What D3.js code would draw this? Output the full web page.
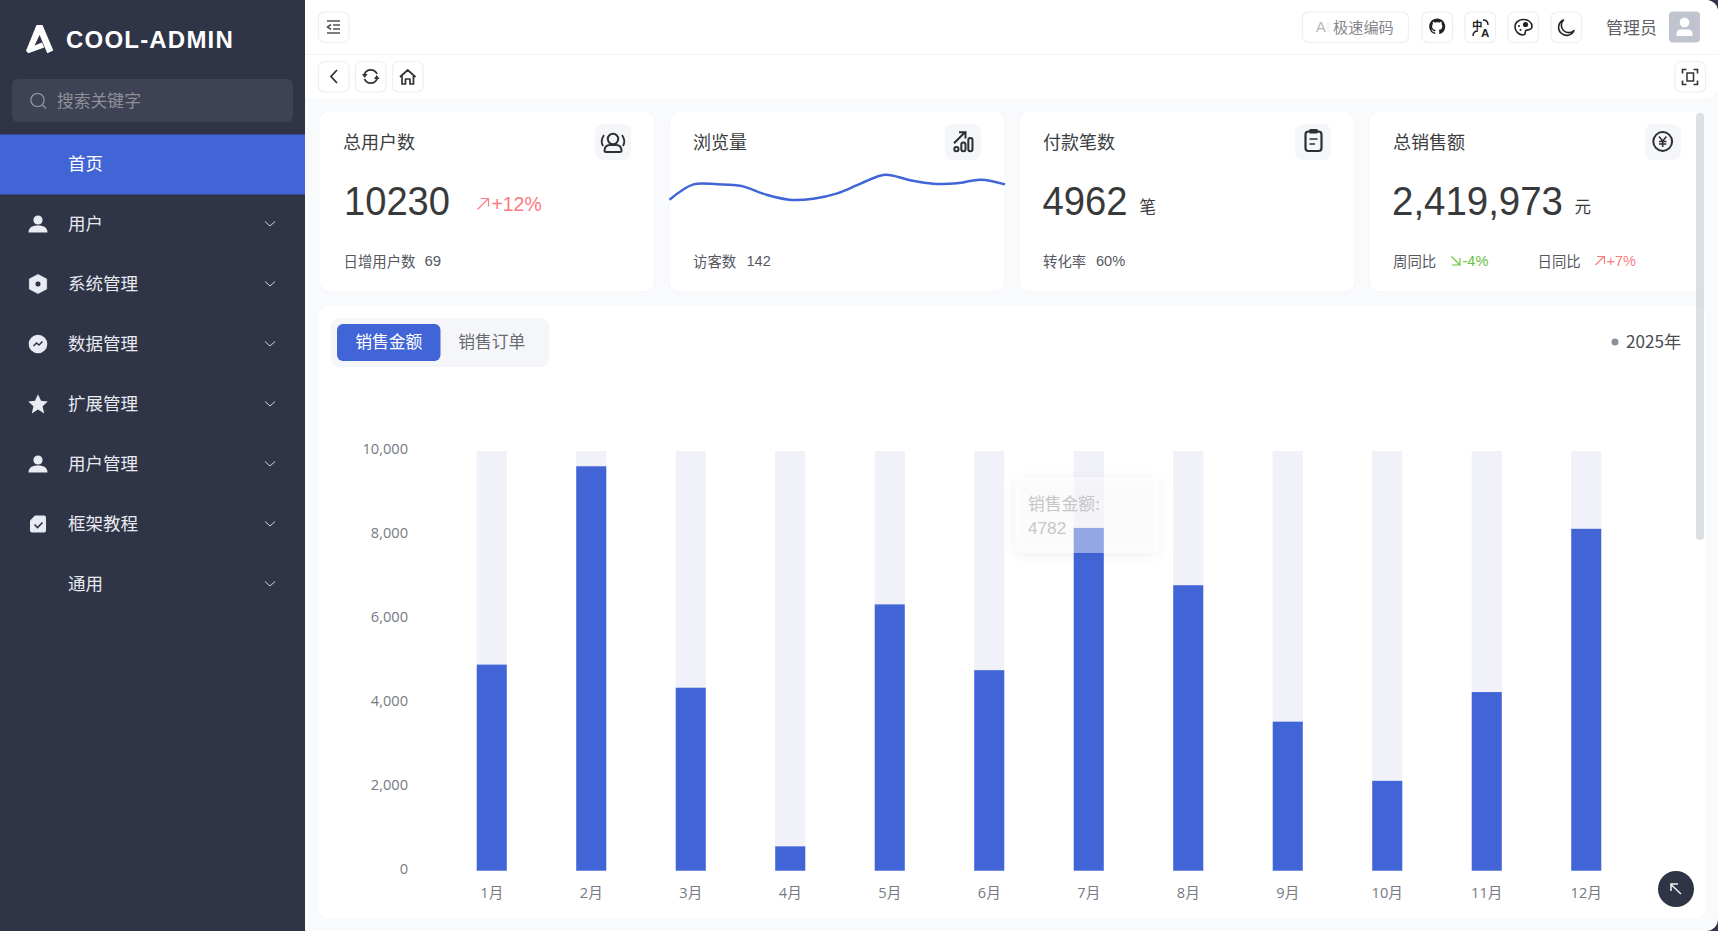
<!DOCTYPE html>
<html lang="zh"><head><meta charset="utf-8">
<script src="https://cdnjs.cloudflare.com/ajax/libs/d3/7.9.0/d3.min.js"></script>
<style>
html,body{margin:0;padding:0;background:#2f3447;overflow:hidden}
svg{display:block}
text{font-family:"Liberation Sans","Noto Sans CJK SC",sans-serif}
.cn{font-family:"Noto Sans CJK SC","Liberation Sans",sans-serif}
.ax text{font-family:"Open Sans","Noto Sans CJK SC",sans-serif;font-size:14.6px;fill:#767a84}
</style></head><body><div id="app"></div>
<script>
// ---- chart data ----
const months = ["1月","2月","3月","4月","5月","6月","7月","8月","9月","10月","11月","12月"];
const salesValues = [4910,9636,4360,580,6345,4778,8167,6802,3551,2141,4256,8146];
const maxValue = 10000;
const yTickValues = [0,2000,4000,6000,8000,10000];
const visitTrend = [21,67,67,62,37,21,24,40,70,96,80,69,70,81,67];
const menuLabels = ["用户","系统管理","数据管理","扩展管理","用户管理","框架教程","通用"];
const tabLabels = ["销售金额","销售订单"];
const tooltipLabel = "销售金额:";
const tooltipValue = "4782";
const yearLabel = "2025年";

const W=1718,H=931,BLUE="#4165d7",DARK="#2f3447",MUTE="#55585f";
const svg=d3.select("#app").append("svg").attr("width",W).attr("height",H);
const defs=svg.append("defs");
const f=defs.append("filter").attr("id","sh").attr("x","-20%").attr("y","-30%").attr("width","140%").attr("height","170%");
f.append("feDropShadow").attr("dx",0).attr("dy",2).attr("stdDeviation",6).attr("flood-color","#000").attr("flood-opacity",.14);

const rect=(g,x,y,w,h,o={})=>g.append("rect").attr("x",x).attr("y",y).attr("width",w).attr("height",h)
  .attr("rx",o.r||0).attr("fill",o.fill||"none").attr("stroke",o.stroke||"none").attr("stroke-width",o.sw||1);
const txt=(g,s,x,y,size,fill,o={})=>g.append("text").text(s).attr("x",x).attr("y",y).attr("font-size",size)
  .attr("fill",fill).attr("text-anchor",o.anchor||"start").attr("class",o.cls||null)
  .attr("font-weight",o.w||null).attr("letter-spacing",o.ls||null);
const icon=(g,d,x,y,s,o={})=>g.append("path").attr("d",d).attr("transform",`translate(${x},${y}) scale(${s})`)
  .attr("fill",o.fill||"none").attr("fill-rule","evenodd");

// ---- page frame ----
rect(svg,0,0,W,H,{fill:DARK});
rect(svg,295,0,W-295,H,{fill:"#f9fafb",r:12});
rect(svg,295,0,W-295,98,{fill:"#ffffff",r:12});
rect(svg,305,54,W-305,1,{fill:"#f1f3f7"});

// ---- sidebar ----
const side=svg.append("g");
rect(side,0,0,305,H,{fill:DARK});
side.append("path").attr("d","M36.5 25 L42.5 25 L53.3 50.5 L47.3 53.3 L39.6 35 L34.5 45.5 L42 42.5 L44.3 47.5 L28.3 53.3 L26 50.7 Z").attr("fill","#fff");
txt(side,"COOL-ADMIN",66,48,24,"#fff",{w:700,ls:1.2});
rect(side,12,79,281,43,{fill:"#3e4254",r:6});
side.append("circle").attr("cx",37.5).attr("cy",100).attr("r",6.6).attr("fill","none").attr("stroke","#8d9099").attr("stroke-width",1.4);
side.append("path").attr("d","M42.5 105 L46 108.5").attr("stroke","#8d9099").attr("stroke-width",1.4);
txt(side,"搜索关键字",57,106.5,16.8,"#8d9099",{cls:"cn"});
rect(side,0,134.5,305,60,{fill:BLUE});
txt(side,"首页",68,170,17.5,"#fff",{cls:"cn"});
menuLabels.forEach((m,i)=>{
  const cy=224+i*60;
  txt(side,m,68,cy+6,17.5,"#e8eaf0",{cls:"cn"});
  side.append("path").attr("d",`M265 ${cy-2.5} L270 ${cy+2} L275 ${cy-2.5}`).attr("fill","none").attr("stroke","#cfd2da").attr("stroke-width",1);
  const g=side.append("g").attr("transform",`translate(38,${cy})`).attr("fill","#e8ebf2");
  if(i===0||i===4){
    g.append("circle").attr("cy",-4).attr("r",4.6);
    g.append("path").attr("d","M-9.5 8.5 C-9.5 2.5 -4.5 1.5 0 1.5 C4.5 1.5 9.5 2.5 9.5 8.5 Z");
  } else if(i===1){
    g.append("path").attr("fill-rule","evenodd").attr("d","M0 -9.5 L8.6 -5 L8.6 5 L0 9.5 L-8.6 5 L-8.6 -5 Z M0 -3 A3 3 0 1 0 0 3 A3 3 0 1 0 0 -3 Z")
     .attr("stroke","#e8ebf2").attr("stroke-width",.8).attr("stroke-linejoin","round");
  } else if(i===2){
    g.append("circle").attr("r",9.3);
    g.append("path").attr("d","M-4.5 2 L-1.5 -1 L1 1 L4.5 -2.5").attr("fill","none").attr("stroke",DARK).attr("stroke-width",1.5);
  } else if(i===3){
    g.append("path").attr("d","M0 -9.8 L3 -3.2 L9.8 -2.6 L4.6 2.2 L6.2 9.4 L0 5.6 L-6.2 9.4 L-4.6 2.2 L-9.8 -2.6 L-3 -3.2 Z");
  } else if(i===5){
    g.append("path").attr("d","M-8 -3.5 L-3 -8.5 L6 -8.5 Q8 -8.5 8 -6.5 L8 6.5 Q8 8.5 6 8.5 L-6 8.5 Q-8 8.5 -8 6.5 Z");
    g.append("path").attr("d","M-3.5 0.5 L-0.5 3.5 L4.5 -1.5").attr("fill","none").attr("stroke",DARK).attr("stroke-width",1.6);
  }
});

// ---- top bars ----
const top_=svg.append("g");
const btn=(x,y,w=30.5,h=30.5)=>rect(top_,x,y,w,h,{fill:"#fff",stroke:"#eeeff3",r:6,sw:1.2});
[[318.5,12],[318.5,61.5],[355.5,61.5],[392.5,61.5],[1422,12],[1465,12],[1508,12],[1551,12],[1675,61.5]].forEach(p=>btn(p[0],p[1]));
top_.append("path").attr("d","M327 21 H340 M333 25 H340 M333 29 H340 M327 33 H340 M331 24.5 L327.5 27 L331 29.5").attr("fill","none").attr("stroke","#555").attr("stroke-width",1.6);
top_.append("path").attr("d","M337 70 L331 76.5 L337 83").attr("fill","none").attr("stroke","#333").attr("stroke-width",1.8);
top_.append("path").attr("d","M364.5 74 A6.8 6.8 0 0 1 377 74 M377 79 A6.8 6.8 0 0 1 364.5 79").attr("fill","none").attr("stroke","#333").attr("stroke-width",1.9);
top_.append("path").attr("d","M362 74 H367.5 L364.7 78 Z M374 79 H379.5 L376.7 75 Z").attr("fill","#333");
top_.append("path").attr("d","M400 77 L407.7 70 L415.5 77 M402 75.5 V84 H405.5 V79 H410 V84 H413.5 V75.5").attr("fill","none").attr("stroke","#333").attr("stroke-width",1.7).attr("stroke-linejoin","round");
rect(top_,1302.5,12,106,30.5,{fill:"#fff",stroke:"#eeeff3",r:6,sw:1.2});
txt(top_,"A",1316,32,14.6,"#b4b4b6");
txt(top_,"I",1326,32,14.6,"#f0f0f0");
txt(top_,"极速编码",1333,32.5,15.2,"#85878e",{cls:"cn"});
icon(top_,"M8 0C3.58 0 0 3.58 0 8c0 3.54 2.29 6.53 5.47 7.59.4.07.55-.17.55-.38 0-.19-.01-.82-.01-1.49-2.01.37-2.53-.49-2.69-.94-.09-.23-.48-.94-.82-1.13-.28-.15-.68-.52-.01-.53.63-.01 1.08.58 1.23.82.72 1.21 1.87.87 2.33.66.07-.52.28-.87.51-1.07-1.78-.2-3.64-.89-3.64-3.95 0-.87.31-1.59.82-2.15-.08-.2-.36-1.02.08-2.12 0 0 .67-.21 2.2.82.64-.18 1.32-.27 2-.27.68 0 1.36.09 2 .27 1.53-1.04 2.2-.82 2.2-.82.44 1.1.16 1.92.08 2.12.51.56.82 1.27.82 2.15 0 3.07-1.87 3.75-3.65 3.95.29.25.54.73.54 1.48 0 1.07-.01 1.93-.01 2.2 0 .21.15.46.55.38A8.013 8.013 0 0016 8c0-4.42-3.58-8-8-8z",1429.2,18.5,1,{fill:"#222"});
txt(top_,"中",1472,28.5,10.5,"#222",{cls:"cn",w:700});
txt(top_,"A",1481,37,11.5,"#222",{w:700});
top_.append("path").attr("d","M1483 20 Q1488 20 1488 25 M1478 31 Q1473 31 1473 36").attr("fill","none").attr("stroke","#222").attr("stroke-width",1.5);
top_.append("path").attr("d","M1523.5 19.5 C1517 19.5 1515 24 1515 27 C1515 31.5 1519 35 1523 35 C1526 35 1525 32.5 1525.5 31 C1526.5 29 1532 31 1532 26.5 C1532 22.5 1528.5 19.5 1523.5 19.5 Z").attr("fill","none").attr("stroke","#222").attr("stroke-width",1.6);
top_.append("circle").attr("cx",1525.5).attr("cy",24.5).attr("r",2.6).attr("fill","#222");
top_.append("circle").attr("cx",1519).attr("cy",26).attr("r",1).attr("fill","#222");
top_.append("circle").attr("cx",1520.5).attr("cy",30).attr("r",1).attr("fill","#222");
top_.append("path").attr("d","M1563.5 20 A8 8 0 1 0 1574 30.5 A7 7 0 0 1 1563.5 20 Z").attr("fill","none").attr("stroke","#222").attr("stroke-width",1.6).attr("stroke-linejoin","round");
txt(top_,"管理员",1606,33.5,17,"#5f6269",{cls:"cn"});
rect(top_,1669,11.5,31,31,{fill:"#c0c4cf",r:4});
top_.append("circle").attr("cx",1684.5).attr("cy",22.5).attr("r",4.8).attr("fill","#fff");
top_.append("path").attr("d","M1676.5 36 V34 Q1676.5 29.5 1681 29.5 H1688 Q1692.5 29.5 1692.5 34 V36 Z").attr("fill","#fff");
top_.append("path").attr("d","M1682.5 73.5 V69.5 H1686.5 M1693.5 69.5 H1697.5 V73.5 M1697.5 80.5 V84.5 H1693.5 M1686.5 84.5 H1682.5 V80.5").attr("fill","none").attr("stroke","#333").attr("stroke-width",1.6);
rect(top_,1687,73,6.5,8,{stroke:"#333",sw:1.5});

// ---- summary cards ----
const cardX=[319,669,1019,1369];
const cards=svg.append("g");
cardX.forEach(x=>{
  rect(cards,x,111,336,181,{fill:"#fff",stroke:"#f3f5fb",r:11,sw:1});
  rect(cards,x+276,124,36,36,{fill:"#f5f6fa",r:8});
});
const C2="#38393b";
const big=(s,x,w)=>txt(cards,s,x,214.5,40.2,C2).attr("textLength",w).attr("lengthAdjust","spacingAndGlyphs");
txt(cards,"总用户数",343,148.8,18,"#3c3d40",{cls:"cn"});
big("10230",344,106);
txt(cards,"+12%",491.5,211,19.4,"#fb7a7f");
cards.append("path").attr("d","M477.5 209.5 L488.5 198.5 M480.5 198.5 H488.5 V206.5").attr("fill","none").attr("stroke","#fb7a7f").attr("stroke-width",1.1);
txt(cards,"日增用户数",343.5,266.5,14.4,MUTE,{cls:"cn"});
txt(cards,"69",424.5,266,15,MUTE);
txt(cards,"浏览量",693,148.8,18,"#3c3d40",{cls:"cn"});
txt(cards,"访客数",693,266.5,14.4,MUTE,{cls:"cn"});
txt(cards,"142",746.5,266,14.6,MUTE);
txt(cards,"付款笔数",1043,148.8,18,"#3c3d40",{cls:"cn"});
big("4962",1042.5,85);
txt(cards,"笔",1139.5,213,16.5,C2,{cls:"cn"});
txt(cards,"转化率",1043,266.5,14.4,MUTE,{cls:"cn"});
txt(cards,"60%",1096,266,14.6,MUTE);
txt(cards,"总销售额",1393,148.8,18,"#3c3d40",{cls:"cn"});
big("2,419,973",1392,171);
txt(cards,"元",1574.5,213,16.5,C2,{cls:"cn"});
txt(cards,"周同比",1393,266.5,14.4,MUTE,{cls:"cn"});
cards.append("path").attr("d","M1451.5 256.5 L1460 265 M1452 265 H1460 V258").attr("fill","none").attr("stroke","#67c23a").attr("stroke-width",1.1);
txt(cards,"-4%",1462.5,266,14.5,"#67c23a");
txt(cards,"日同比",1537.5,266.5,14.4,MUTE,{cls:"cn"});
cards.append("path").attr("d","M1595.5 265 L1604 256.5 M1597 256.5 H1604.5 V264").attr("fill","none").attr("stroke","#fb7a7f").attr("stroke-width",1.1);
txt(cards,"+7%",1606.5,266,14.5,"#fb7a7f");
// card icons
const IC="#2e2f33";
cards.append("circle").attr("cx",613).attr("cy",139).attr("r",5.2).attr("fill","none").attr("stroke",IC).attr("stroke-width",2);
cards.append("path").attr("d","M604.5 151 Q604.5 145 610 145 H616 Q621.5 145 621.5 151 Q621.5 152 620 152 H606 Q604.5 152 604.5 151 Z").attr("fill","none").attr("stroke",IC).attr("stroke-width",2);
cards.append("path").attr("d","M604 135 Q600 141 603 146 M622 135 Q626 141 623 146").attr("fill","none").attr("stroke",IC).attr("stroke-width",1.8);
cards.append("path").attr("d","M954 143.3 L965 132.3 M959 132.3 H965.5 V138.5").attr("fill","none").attr("stroke",IC).attr("stroke-width",2);
rect(cards,954.3,147,4.2,4.2,{stroke:IC,sw:2,r:2});
rect(cards,961.3,142.5,4.2,8.7,{stroke:IC,sw:2,r:2});
rect(cards,968.3,138,4.2,13.2,{stroke:IC,sw:2,r:2});
rect(cards,1305.5,131.5,16,19.5,{stroke:IC,sw:2.2,r:3});
rect(cards,1309,129,9,4.5,{fill:IC,r:1.5});
cards.append("path").attr("d","M1309.5 139 H1317.5 M1309.5 144 H1315").attr("stroke",IC).attr("stroke-width",1.7);
cards.append("circle").attr("cx",1662.7).attr("cy",141.5).attr("r",9.4).attr("fill","none").attr("stroke",IC).attr("stroke-width",2);
cards.append("path").attr("d","M1659 136.5 L1662.7 141 L1666.4 136.5 M1662.7 141 V147 M1659 141.5 H1666.4 M1659 144 H1666.4").attr("fill","none").attr("stroke",IC).attr("stroke-width",1.5);
// sparkline
const sparkX=d3.scalePoint().domain(d3.range(visitTrend.length)).range([669.5,1005]);
const sparkY=d3.scaleLinear().domain([0,100]).range([206.67,173.33]);
cards.append("path").attr("d",d3.line().x((d,i)=>sparkX(i)).y(d=>sparkY(d)).curve(d3.curveCatmullRom.alpha(.5))(visitTrend))
  .attr("fill","none").attr("stroke",BLUE).attr("stroke-width",2.5);

// ---- sales chart card ----
const cc=svg.append("g");
rect(cc,319,306,1386,613,{fill:"#fff",r:11});
rect(cc,331,318,218,49,{fill:"#f5f6fa",r:8});
rect(cc,337,324,103.5,37,{fill:BLUE,r:6});
txt(cc,tabLabels[0],388.7,348,16.8,"#fff",{anchor:"middle",cls:"cn"});
txt(cc,tabLabels[1],491.7,348,16.8,"#6a6c72",{anchor:"middle",cls:"cn"});
cc.append("circle").attr("cx",1615).attr("cy",342).attr("r",3.5).attr("fill","#8c8f98");
txt(cc,yearLabel,1626,348,17.1,"#4a4c52",{cls:"cn"});

const x=d3.scaleBand().domain(months).range([442,1636]).paddingInner(.698).paddingOuter(.349);
const y=d3.scaleLinear().domain([0,maxValue]).range([870.7,451]);
cc.append("g").selectAll("rect").data(months).join("rect")
  .attr("x",d=>x(d)).attr("width",x.bandwidth()).attr("y",y(maxValue)).attr("height",y(0)-y(maxValue)).attr("fill","#f0f1f9");
cc.append("g").selectAll("rect").data(salesValues).join("rect")
  .attr("x",(d,i)=>x(months[i])).attr("width",x.bandwidth()).attr("y",d=>y(d)).attr("height",d=>y(0)-y(d)).attr("fill",BLUE);
const ay=cc.append("g").attr("class","ax").attr("transform","translate(408,-2)")
  .call(d3.axisLeft(y).tickValues(yTickValues).tickFormat(d3.format(",")).tickSize(0).tickPadding(0));
ay.select(".domain").remove();
const ax=cc.append("g").attr("class","ax").attr("transform","translate(0,887.5)")
  .call(d3.axisBottom(x).tickSize(0).tickPadding(0));
ax.select(".domain").remove();

// ---- fading tooltip ----
const tip=svg.append("g");
rect(tip,1015,477,144,76,{fill:"#fff",r:6}).attr("fill-opacity",.42).style("filter","url(#sh)");
txt(tip,tooltipLabel,1028,509.5,16.8,"#c6c6c8",{cls:"cn"});
txt(tip,tooltipValue,1028,534,17.2,"#c6c6c8");

// ---- scrollbar & back-to-top ----
rect(svg,1696,113,8,427,{fill:"#c8cad0",r:4}).attr("fill-opacity",.6);
svg.append("circle").attr("cx",1676).attr("cy",889).attr("r",18).attr("fill",DARK);
svg.append("path").attr("d","M1671 884.5 L1681 894 M1671 891 V884 H1678").attr("fill","none").attr("stroke","#eee").attr("stroke-width",1.6);
</script></body></html>
